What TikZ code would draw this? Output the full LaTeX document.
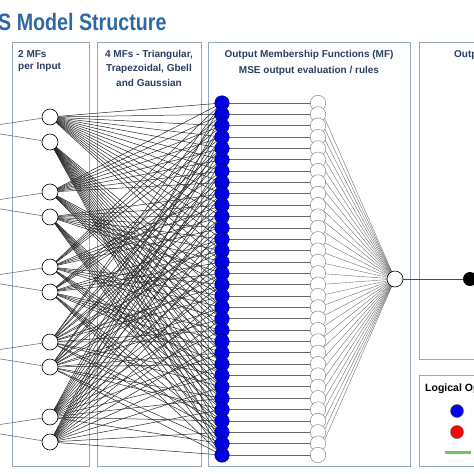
\documentclass[tikz,border=0pt]{standalone}
\usepackage{fontspec}
\setmainfont{Liberation Sans}
\newfontfamily\titlefont[FakeStretch=0.83]{Liberation Sans}
\usetikzlibrary{backgrounds}
\definecolor{framecol}{RGB}{150,168,186}
\definecolor{titleblue}{RGB}{46,104,165}
\definecolor{labelcol}{RGB}{42,62,98}
\definecolor{ruleblue}{RGB}{0,0,225}
\definecolor{leggreen}{RGB}{110,200,100}
\tikzset{
  frame/.style={draw=framecol, line width=1pt},
  boxlabel/.style={font=\bfseries\fontsize{10}{14.5}\selectfont, text=labelcol, align=center, inner sep=0pt},
  mfnode/.style={circle, draw=black, fill=white, minimum size=16pt, inner sep=0pt, line width=0.6pt},
  rulenode/.style={circle, draw=ruleblue!60!black, fill=ruleblue, minimum size=14.5pt, inner sep=0pt, line width=0.5pt},
  normnode/.style={circle, draw=black!45, fill=white, minimum size=15.5pt, inner sep=0pt, line width=0.5pt},
  legdot/.style={circle, draw=black!60, minimum size=13pt, inner sep=0pt, line width=0.5pt},
  inlink/.style={draw=black!55, line width=0.6pt},
  link/.style={draw=black!85, line width=0.5pt},
  hlink/.style={draw=black!60, line width=0.8pt},
  outlink/.style={draw=black!55, line width=0.4pt},
}
\begin{document}
\begin{tikzpicture}[x=1pt,y=-1pt]
  \useasboundingbox (0,0) rectangle (474,474);
  \clip (0,0) rectangle (474,474);

  % title and frames (multi-line labels sit on their last baseline)
  \node[anchor=base west, inner sep=0pt, text=titleblue,
        font=\titlefont\bfseries\fontsize{23.7}{28}\selectfont] (title) at (-2,30) {S Model Structure};
  \node[anchor=base west, boxlabel, align=left, font=\bfseries\fontsize{10}{11.7}\selectfont] (lab1) at (18,69) {2 MFs\\per Input};
  \node[anchor=base, boxlabel] (lab2) at (149,86) {4 MFs - Triangular,\\Trapezoidal, Gbell\\and Gaussian};
  \node[anchor=base, boxlabel, font=\bfseries\fontsize{10}{16}\selectfont] (lab3) at (309,73) {Output Membership Functions (MF)\\MSE output evaluation / rules};
  \node[anchor=base west, boxlabel] (lab4) at (454,57) {Outp};
  \node[anchor=base west, inner sep=0pt, font=\bfseries\fontsize{10.5}{12}\selectfont] (lab5) at (425,391) {Logical Op};

  % input MFs (2 per input)
  \foreach \k in {0,...,9} {
    \pgfmathsetmacro\my{117+75*int(\k/2)+25*mod(\k,2)}
    \node[mfnode] (mf\k) at (50,\my) {};
  }
  \foreach \i in {0,...,4}
    \coordinate (in\i) at (-30,{129+75*\i});

  % rules and normalised rules
  \foreach \r in {0,...,31} {
    \node[rulenode] (rule\r) at (222,{103+\r*11.355}) {};
  }
  \foreach \r in {0,...,31} {
    \node[normnode] (norm\r) at (318,{103+\r*11.355}) {};
  }

  \node[mfnode] (out) at (395,279) {};
  \node[circle, fill=black, minimum size=14pt, inner sep=0pt] (res) at (470,279) {};

  % legend
  \node[legdot, fill=ruleblue] (legblue) at (457,411) {};
  \node[legdot, fill=red] (legred) at (457,432) {};
  \draw[leggreen, line width=3pt] (445,452) -- (471,452);

  \begin{pgfonlayer}{background}
    \draw[frame] (12,42) rectangle (89,466);
    \draw[frame] (97,42) rectangle (201,466);
    \draw[frame] (208,42) rectangle (410,466);
    \draw[frame] (419,42) rectangle (490,359);
    \draw[frame] (419,375) rectangle (490,466);

    \foreach \i in {0,...,4} {
      \pgfmathtruncatemacro\ka{2*\i}
      \pgfmathtruncatemacro\kb{2*\i+1}
      \draw[inlink] (in\i) -- (mf\ka.center);
      \draw[inlink] (in\i) -- (mf\kb.center);
    }
    \foreach \r in {0,...,31} {
      \foreach \i in {0,...,4} {
        \pgfmathtruncatemacro\j{mod(floor(\r/2^(4-\i)),2)}
        \pgfmathtruncatemacro\k{2*\i+\j}
        \draw[link] (mf\k.center) -- (rule\r.center);
      }
      \draw[hlink] (rule\r.center) -- (norm\r.center);
      \draw[outlink] (norm\r.center) -- (out.center);
    }
    \draw[draw=black!70, line width=0.8pt] (out.center) -- (res.center);
  \end{pgfonlayer}
\end{tikzpicture}
\end{document}
